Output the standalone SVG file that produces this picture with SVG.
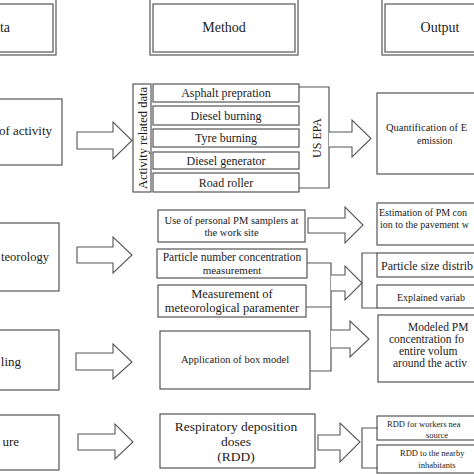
<svg xmlns="http://www.w3.org/2000/svg" width="474" height="474" viewBox="0 0 474 474">
<style>
.b{fill:#fff;stroke:#555;stroke-width:1.2}
.c{fill:none;stroke:#555;stroke-width:1.2}
.a{fill:#fff;stroke:#555;stroke-width:1.1;stroke-linejoin:miter}
text{font-family:"Liberation Serif","Times New Roman",serif;fill:#222}
.m{text-anchor:middle}
.e{text-anchor:end}
</style>
<rect width="474" height="474" fill="#fff"/>
<g id="hdr-data">
<rect class="b" x="-5" y="-1" width="61" height="56"/>
<rect class="b" x="-5" y="4" width="58" height="48"/>
<text class="e" x="10" y="32" font-size="14">ta</text>
</g>
<g id="hdr-method">
<rect class="b" x="150" y="-1" width="148" height="56"/>
<rect class="b" x="153" y="4" width="142" height="48"/>
<text class="m" x="224" y="32" font-size="14">Method</text>
</g>
<g id="hdr-output">
<rect class="b" x="382" y="-1" width="100" height="56"/>
<rect class="b" x="385" y="4" width="100" height="48"/>
<text class="m" x="440" y="32" font-size="14">Output</text>
</g>
<g id="in-activity">
<rect class="b" x="-5" y="99" width="67" height="66"/>
<text class="e" x="52" y="135" font-size="13">of activity</text>
</g>
<g id="in-meteo">
<rect class="b" x="-5" y="223" width="64" height="68"/>
<text class="e" x="49" y="261" font-size="12.5">teorology</text>
</g>
<g id="in-model">
<rect class="b" x="-5" y="330" width="64" height="60"/>
<text class="e" x="21" y="366" font-size="13">ling</text>
</g>
<g id="in-exposure">
<rect class="b" x="-5" y="415" width="64" height="55"/>
<text class="e" x="19" y="446" font-size="13">ure</text>
</g>
<g id="activity-data">
<rect class="b" x="133" y="84" width="18" height="108"/>
<text class="m" transform="translate(146.5,138) rotate(-90)" font-size="12.5">Activity related data</text>
</g>
<g id="asphalt"><rect class="b" x="153" y="84" width="146" height="18"/><text class="m" x="226" y="97" font-size="12">Asphalt prepration</text></g>
<g id="diesel-burning"><rect class="b" x="153" y="106" width="146" height="19"/><text class="m" x="226" y="119.5" font-size="12">Diesel burning</text></g>
<g id="tyre"><rect class="b" x="153" y="129" width="146" height="18"/><text class="m" x="226" y="142" font-size="12">Tyre burning</text></g>
<g id="diesel-gen"><rect class="b" x="153" y="152" width="146" height="17"/><text class="m" x="226" y="164.5" font-size="12">Diesel generator</text></g>
<g id="road-roller"><rect class="b" x="153" y="173" width="146" height="19"/><text class="m" x="226" y="186.5" font-size="12">Road roller</text></g>
<g id="us-epa"><text class="m" transform="translate(321,138) rotate(-90)" font-size="12">US EPA</text></g>
<g id="samplers">
<rect class="b" x="158" y="210" width="147" height="32"/>
<text class="m" x="231.5" y="224" font-size="10.5">Use of personal PM samplers at</text>
<text class="m" x="231.5" y="236" font-size="10.5">the work site</text>
</g>
<g id="pnc">
<rect class="b" x="157" y="249" width="150" height="29"/>
<text class="m" x="232" y="261" font-size="11.5">Particle number concentration</text>
<text class="m" x="232" y="273.5" font-size="11">measurement</text>
</g>
<g id="meteo-meas">
<rect class="b" x="158" y="285" width="148" height="32"/>
<text class="m" x="232" y="298" font-size="12.5">Measurement of</text>
<text class="m" x="232" y="312" font-size="12.5">meteorological paramenter</text>
</g>
<g id="box-model">
<rect class="b" x="160" y="331" width="150" height="58"/>
<text class="m" x="235" y="363" font-size="10.5">Application of box model</text>
</g>
<g id="rdd">
<rect class="b" x="160" y="414" width="155" height="54"/>
<text class="m" x="236" y="431" font-size="13.5">Respiratory deposition</text>
<text class="m" x="236" y="446" font-size="13.5">doses</text>
<text class="m" x="236" y="461" font-size="13.5">(RDD)</text>
</g>
<g id="out-quant">
<rect class="b" x="377" y="93" width="110" height="81"/>
<text x="386" y="131" font-size="10.5">Quantification of E</text>
<text x="417" y="144" font-size="10">emission</text>
</g>
<g id="out-estimation">
<rect class="b" x="377" y="203" width="110" height="42"/>
<text x="379" y="216" font-size="10">Estimation of PM con</text>
<text x="380" y="228" font-size="10">ion to the pavement w</text>
</g>
<g id="out-psd">
<rect class="b" x="377" y="253" width="110" height="24"/>
<text x="381" y="269.5" font-size="12">Particle size distrib</text>
</g>
<g id="out-explained">
<rect class="b" x="377" y="285" width="110" height="23"/>
<text x="397" y="300.5" font-size="10">Explained variab</text>
</g>
<g id="out-modeled">
<rect class="b" x="378" y="315" width="110" height="67"/>
<text x="408" y="331" font-size="11.5">Modeled PM</text>
<text x="389" y="343" font-size="11.5">concentration  fo</text>
<text x="399" y="355" font-size="11.5">entire volum</text>
<text x="393" y="367" font-size="11.5">around the activ</text>
</g>
<g id="out-rdd-workers">
<rect class="b" x="377" y="416" width="110" height="24"/>
<text x="387" y="427" font-size="8.5">RDD for workers nea</text>
<text class="m" x="437" y="437.5" font-size="8.5">source</text>
</g>
<g id="out-rdd-inhab">
<rect class="b" x="377" y="445" width="110" height="28"/>
<text x="400" y="456" font-size="8.5">RDD to the nearby</text>
<text class="m" x="437" y="468" font-size="8.5">inhabitants</text>
</g>
<g id="connectors">
<polygon class="a" points="77,132 113,132 113,122 132,140.5 113,159 113,149 77,149"/>
<polygon class="a" points="77,247 113,247 113,237 132,255 113,273 113,263 77,263"/>
<polygon class="a" points="76,353 113,353 113,344 132,362 113,379 113,370 76,370"/>
<polygon class="a" points="78,434 115,434 115,424 133,442 115,459 115,450 78,450"/>
<path class="c" d="M299,87 H329 V188 H299"/>
<path class="a" d="M329,132 H352 V120 L371,138.5 L352,157 V147 H329"/>
<polygon class="a" points="308,218 345,218 345,207 363,225 345,243 345,233 308,233"/>
<path class="c" d="M307,263 H331 V371 H310 M306,307 H331"/>
<path class="a" d="M331,275 H345 V266 L362,283 L345,300 V291 H331"/>
<path class="a" d="M331,330 H350 V321 L369,339 L350,357 V348 H331"/>
<path class="c" d="M377,253 H362 V308 H377"/>
<polygon class="a" points="318,435 340,435 340,423 360,442 340,462 340,450 318,450"/>
<path class="c" d="M378,428 H362 V468 H378"/>
</g>
</svg>
